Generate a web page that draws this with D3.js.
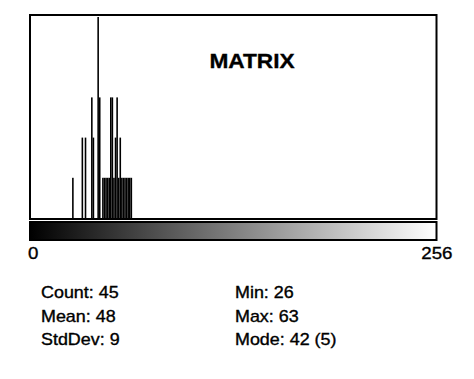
<!DOCTYPE html>
<html><head><meta charset="utf-8">
<script src="https://cdn.jsdelivr.net/npm/d3@7"></script>
<style>body{margin:0;background:#fff}svg{display:block}</style>
</head><body>
<svg id="c" width="474" height="379"></svg>
<script>
const bins = [26,32,34,38,39,42,43,45,46,47,48,49,50,51,52,53,54,55,56,57,58,59,60,61,62,63];
const counts = [1,2,2,3,2,5,3,1,1,1,1,1,3,3,1,2,3,1,2,1,1,1,1,1,1,1];
const title = "MATRIX";
const axisLabels = ["0","256"];
const statsLeft = ["Count: 45","Mean: 48","StdDev: 9"];
const statsRight = ["Min: 26","Max: 63","Mode: 42 (5)"];

const svg = d3.select("#c");
const x = d3.scaleLinear().domain([0,256]).range([31,435.5]);
const y = d3.scaleLinear().domain([0,d3.max(counts)]).range([218,17]);
const data = bins.map((b,i)=>({b, c:counts[i]}));

svg.append("rect").attr("x",30).attr("y",15).attr("width",406.5).attr("height",204)
  .attr("fill","#fff").attr("stroke","#000").attr("stroke-width",2);

svg.selectAll("rect.bar").data(data).enter().append("rect").attr("class","bar")
  .attr("x",d=>x(d.b)).attr("width",x(1)-x(0))
  .attr("y",d=>y(d.c)).attr("height",d=>218-y(d.c)).attr("fill","#000");

// gradient bar
const defs = svg.append("defs");
const g = defs.append("linearGradient").attr("id","gr").attr("x1","0").attr("x2","1");
g.append("stop").attr("offset","0").attr("stop-color","#000");
g.append("stop").attr("offset","1").attr("stop-color","#fff");
svg.append("rect").attr("x",30).attr("y",222).attr("width",406.5).attr("height",18)
  .attr("fill","url(#gr)").attr("stroke","#000").attr("stroke-width",2);

const font = "'Liberation Sans', Arial, sans-serif";
function txt(t, tx, ty, size, sx, anchor, weight){
  svg.append("text").attr("transform",`translate(${tx},${ty}) scale(${sx},1)`)
    .attr("text-anchor",anchor||"start").attr("font-family",font)
    .attr("font-weight",weight||"normal").attr("font-size",size)
    .attr("stroke","#000").attr("stroke-width",0.35).text(t);
}
txt(axisLabels[0], x(0)-3, 259, 17, 1.1);
txt(axisLabels[1], x(256)+17, 259, 17, 1.1, "end");
txt(title, 252, 68, 21, 1.08, "middle", "bold");
statsLeft.forEach((t,i)=>txt(t, 41, 298+i*23.5, 16, 1.12));
statsRight.forEach((t,i)=>txt(t, 235, 298+i*23.5, 16, 1.12));
</script>
</body></html>
